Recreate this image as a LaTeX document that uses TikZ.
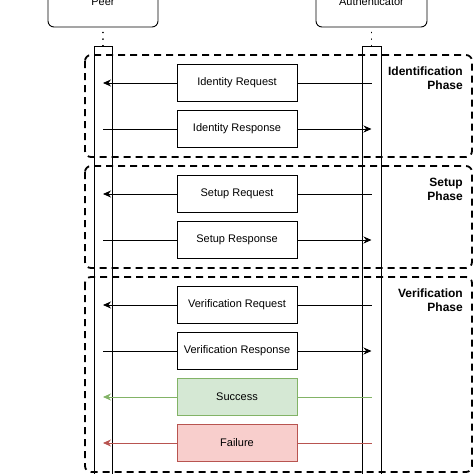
\documentclass[tikz,border=0pt]{standalone}
\usepackage{fontspec}
\setmainfont{Liberation Sans}
\usetikzlibrary{arrows.meta}

\tikzset{
  actor/.style={draw, rounded corners=6pt, minimum width=110pt, minimum height=50pt, line width=0.9pt, inner sep=0, font=\fontsize{11}{13}\selectfont},
  lifebar/.style={draw, anchor=north, minimum width=18pt, minimum height=460pt, line width=0.9pt, inner sep=0},
  msg/.style={draw, fill=white, minimum width=120pt, minimum height=37pt, line width=0.9pt, inner sep=0, font=\fontsize{11}{13}\selectfont},
  okmsg/.style={msg, draw=okline, fill=okfill},
  failmsg/.style={msg, draw=failline, fill=failfill},
  phase/.style={line width=1.8pt, dash pattern=on 7pt off 5pt, rounded corners=6pt},
  phaselabel/.style={anchor=north east, align=right, inner sep=0, font=\fontsize{12}{14}\selectfont\bfseries},
  msgarrow/.style={line width=0.8pt, -{Stealth[length=8pt,width=7pt]}},
  lifeline/.style={line width=1.6pt, dash pattern=on 0.1pt off 6.5pt, line cap=round},
}
\definecolor{okline}{HTML}{82B366}
\definecolor{okfill}{HTML}{D5E8D4}
\definecolor{failline}{HTML}{B85450}
\definecolor{failfill}{HTML}{F8CECC}

\begin{document}
\begin{tikzpicture}[x=1pt, y=-1pt, node distance=46pt]
        \useasboundingbox (0,0) rectangle (474,474);

        \node [actor] (peer) at (103,2) {Peer};
        \node [actor, minimum width=111pt] (auth) at (371.5,2) {Authenticator};
        \node [lifebar] (peerbar) at (103,46) {};
        \node [lifebar, minimum width=19pt] (authbar) at (371.5,46) {};
        \draw [lifeline] (peer.south) ++(0,-5pt) -- (peerbar.north);
        \draw [lifeline] (auth.south) ++(0,-5pt) -- (authbar.north);

        \draw [phase] (85,55) rectangle (472,157);
        \draw [phase] (85,166) rectangle (472,268);
        \draw [phase] (85,277) rectangle (472,472);
        \node [phaselabel] (idlabel) at (463,67) {Identification\\Phase};
        \node [phaselabel] (setuplabel) at (463,178) {Setup\\Phase};
        \node [phaselabel] (verlabel) at (463,289) {Verification\\Phase};

        \node [msg] (idreq) at (237,83) {Identity Request};
        \node [msg, below of=idreq] (idresp) {Identity Response};
        \node [msg] (setupreq) at (237,194) {Setup Request};
        \node [msg, below of=setupreq] (setupresp) {Setup Response};
        \node [msg] (verreq) at (237,305) {Verification Request};
        \node [msg, below of=verreq] (verresp) {Verification Response};
        \node [okmsg, below of=verresp] (success) {Success};
        \node [failmsg, below of=success] (failure) {Failure};

        \draw [line width=0.8pt] (authbar.center |- idreq) -- (idreq.east);
        \draw [msgarrow] (idreq.west) -- (peerbar.center |- idreq);
        \draw [line width=0.8pt] (peerbar.center |- idresp) -- (idresp.west);
        \draw [msgarrow] (idresp.east) -- (authbar.center |- idresp);
        \draw [line width=0.8pt] (authbar.center |- setupreq) -- (setupreq.east);
        \draw [msgarrow] (setupreq.west) -- (peerbar.center |- setupreq);
        \draw [line width=0.8pt] (peerbar.center |- setupresp) -- (setupresp.west);
        \draw [msgarrow] (setupresp.east) -- (authbar.center |- setupresp);
        \draw [line width=0.8pt] (authbar.center |- verreq) -- (verreq.east);
        \draw [msgarrow] (verreq.west) -- (peerbar.center |- verreq);
        \draw [line width=0.8pt] (peerbar.center |- verresp) -- (verresp.west);
        \draw [msgarrow] (verresp.east) -- (authbar.center |- verresp);
        \draw [line width=0.8pt, okline] (authbar.center |- success) -- (success.east);
        \draw [msgarrow, okline] (success.west) -- (peerbar.center |- success);
        \draw [line width=0.8pt, failline] (authbar.center |- failure) -- (failure.east);
        \draw [msgarrow, failline] (failure.west) -- (peerbar.center |- failure);
    \end{tikzpicture}
\end{document}
